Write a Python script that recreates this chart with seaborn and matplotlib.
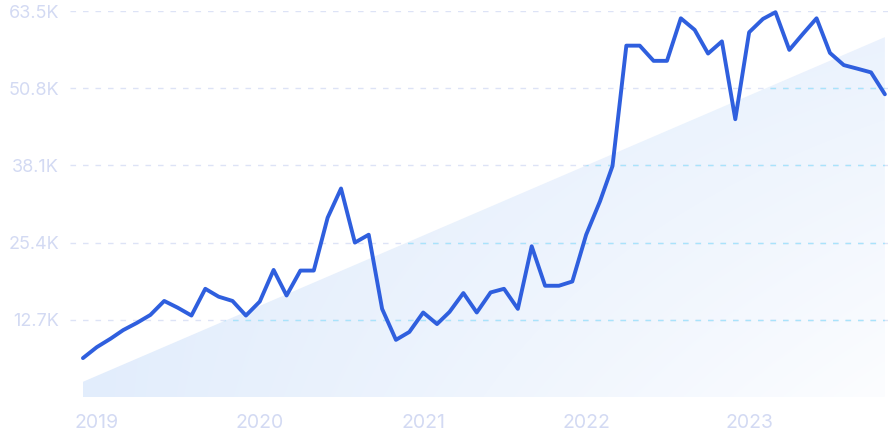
import numpy as np
import pandas as pd
import matplotlib
matplotlib.use('Agg')
import matplotlib.pyplot as plt
import matplotlib.dates as mdates
from matplotlib.patches import Polygon
from matplotlib.ticker import FuncFormatter
import seaborn as sns

# monthly search volume, Dec 2018 - Nov 2023 (values in thousands)
months = pd.date_range('2018-12-01', periods=60, freq='MS')
volume_k = [6.4, 8.2, 9.6, 11.0, 12.2, 13.5, 15.8, 14.7, 13.4, 17.8,
            16.5, 15.8, 13.4, 15.7, 20.9, 16.7, 20.8, 20.8, 29.5, 34.3,
            25.4, 26.7, 14.5, 9.4, 10.7, 13.9, 12.0, 14.0, 17.1, 13.9,
            17.2, 17.8, 14.5, 24.8, 18.3, 18.3, 19.0, 26.7, 32.2, 38.0,
            57.8, 57.8, 55.3, 55.3, 62.3, 60.4, 56.5, 58.5, 45.7, 60.0,
            62.2, 63.3, 57.1, 59.7, 62.3, 56.6, 54.6, 54.0, 53.4, 49.8]
y_ticks = [12700, 25400, 38100, 50800, 63500]
y_labels = ['12.7K', '25.4K', '38.1K', '50.8K', '63.5K']
year_labels = ['2019', '2020', '2021', '2022', '2023']
trend_start, trend_end = 2500, 59200

df = pd.DataFrame({'month': months, 'volume': np.array(volume_k) * 1000})

sns.set_style('white')
plt.rcParams['font.family'] = ['Inter', 'DejaVu Sans']

fig = plt.figure(figsize=(8.88, 4.43), dpi=100)
ax = fig.add_axes([70 / 888, 46 / 443, 818 / 888, 386 / 443])

# background trend triangle with gradient
x0 = mdates.date2num(months[0])
x1 = mdates.date2num(months[-1])
tri = Polygon([(x0, 0), (x0, trend_start), (x1, trend_end), (x1, 0)],
              closed=True, facecolor='none', edgecolor='none')
ax.add_patch(tri)
nx, ny = 300, 200
xn = np.linspace(0, 1, nx)[None, :]
yn = np.linspace(1, 0, ny)[:, None]
t = np.clip(xn * (1 - 0.65 * yn), 0, 1)[..., None]
c0 = np.array([226, 237, 252]) / 255
c1 = np.array([252, 253, 255]) / 255
img = c0 * (1 - t) + c1 * t
im = ax.imshow(img, extent=[x0, x1, 0, trend_end], aspect='auto',
               origin='upper', zorder=1, interpolation='bilinear')
im.set_clip_path(tri)

# grid lines: lavender outside, cyan inside the trend area
for yv in y_ticks:
    ax.axhline(yv, color='#dde3f6', lw=1, ls=(0, (4, 5)), zorder=2)
    g = ax.axhline(yv, color='#a9e3fb', lw=1, ls=(0, (4, 5)), zorder=2.5)
    g.set_clip_path(tri)

sns.lineplot(data=df, x='month', y='volume', ax=ax, color='#2f5fde',
             linewidth=2.8, zorder=5, clip_on=False)

ax.set_xlim(pd.Timestamp('2018-11-02'), pd.Timestamp('2023-11-08'))
ax.set_ylim(0, 63500)
ax.set_yticks(y_ticks)
ax.set_yticklabels(y_labels)
ax.set_xticks([pd.Timestamp(f'{y}-01-01') for y in year_labels])
ax.set_xticklabels(year_labels)
ax.tick_params(axis='y', length=0, pad=8, labelsize=13, labelcolor='#d3daf3')
ax.tick_params(axis='x', length=0, pad=12, labelsize=14, labelcolor='#d3daf3')
ax.set_xlabel('')
ax.set_ylabel('')
for s in ax.spines.values():
    s.set_visible(False)

fig.savefig('out.png', dpi=100)
